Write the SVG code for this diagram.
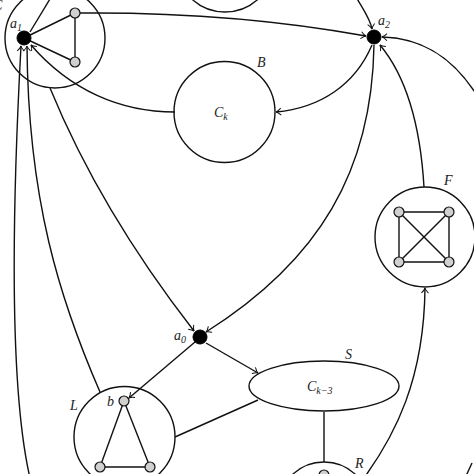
<svg xmlns="http://www.w3.org/2000/svg" width="474" height="474" viewBox="0 0 474 474">
<defs>
<style>
.e{fill:none;stroke:#111;stroke-width:1.4}
.c{fill:#fff;stroke:#111;stroke-width:1.4}
.g{fill:#d0d0d0;stroke:#111;stroke-width:1.2}
.b{fill:#000;stroke:#000}
.t{font-family:"Liberation Serif",serif;font-style:italic;font-size:14px;fill:#222}
.s{font-size:10px}
</style>
<marker id="ar" viewBox="-6 -5 8 10" refX="0" refY="0" markerWidth="8" markerHeight="10" markerUnits="userSpaceOnUse" orient="auto">
<path d="M-5 -3.5 Q-2 -0.5 0 0 Q-2 0.5 -5 3.5" fill="none" stroke="#111" stroke-width="1"/>
</marker>
</defs>
<rect width="474" height="474" fill="#fff"/>

<g id="C">
<circle class="c" cx="55" cy="38" r="50"/>
<text class="t" x="-7" y="10">C</text>
</g>
<g id="top"><circle class="c" cx="225" cy="-37" r="49"/></g>
<g id="B">
<circle class="c" cx="224.5" cy="112" r="50.5"/>
<text class="t" x="257" y="67">B</text>
<text class="t" x="214" y="117">C<tspan class="s" dy="3">k</tspan></text>
</g>
<g id="F">
<circle class="c" cx="425" cy="237" r="50"/>
<text class="t" x="444" y="185">F</text>
</g>
<g id="S">
<ellipse class="c" cx="324" cy="386" rx="75" ry="25"/>
<text class="t" x="345" y="359">S</text>
<text class="t" x="307" y="391">C<tspan class="s" dy="3">k−3</tspan></text>
</g>
<g id="L">
<circle class="c" cx="124.5" cy="437" r="50.5"/>
<text class="t" x="70" y="410">L</text>
</g>
<g id="R">
<circle class="c" cx="324" cy="508" r="46"/>
<text class="t" x="355" y="468">R</text>
</g>

<g id="connectors">
<path class="e" d="M30 32 L53 -6"/>
<path class="e" d="M80 13 C200 12 300 24 366 36" marker-end="url(#ar)"/>
<path class="e" d="M175 112 C120 112 70 90 31 45" marker-end="url(#ar)"/>
<path class="e" d="M30 478 C12 400 10 250 21 46" marker-end="url(#ar)"/>
<path class="e" d="M100 392 C60 300 28 200 27 46" marker-end="url(#ar)"/>
<path class="e" d="M50 88 Q100 210 194 331" marker-end="url(#ar)"/>
<path class="e" d="M355 -5 C362 8 370 18 372 29" marker-end="url(#ar)"/>
<path class="e" d="M372 45 C355 85 320 108 276 112" marker-end="url(#ar)"/>
<path class="e" d="M374 45 C372 170 320 260 206 332" marker-end="url(#ar)"/>
<path class="e" d="M424 187 C420 120 405 75 380 45" marker-end="url(#ar)"/>
<path class="e" d="M478 97 C455 60 425 38 382 37" marker-end="url(#ar)"/>
<path class="e" d="M364 478 C395 435 424 380 425 288" marker-end="url(#ar)"/>
<path class="e" d="M206 343 L258 373" marker-end="url(#ar)"/>
<path class="e" d="M195 342 L129 398" marker-end="url(#ar)"/>
<path class="e" d="M258 400 L175 437"/>
<path class="e" d="M324 412 L324 462"/>
<path class="e" d="M466 476 L472 463"/>
<line class="e" x1="24" y1="38" x2="75" y2="13"/>
<line class="e" x1="24" y1="38" x2="75" y2="62"/>
<line class="e" x1="75" y1="13" x2="75" y2="62"/>
<line class="e" x1="399" y1="212" x2="449" y2="212"/>
<line class="e" x1="399" y1="262" x2="449" y2="262"/>
<line class="e" x1="399" y1="212" x2="399" y2="262"/>
<line class="e" x1="449" y1="212" x2="449" y2="262"/>
<line class="e" x1="399" y1="212" x2="449" y2="262"/>
<line class="e" x1="449" y1="212" x2="399" y2="262"/>
<line class="e" x1="124" y1="401" x2="100" y2="467"/>
<line class="e" x1="124" y1="401" x2="150" y2="467"/>
<line class="e" x1="100" y1="467" x2="150" y2="467"/>
</g>

<g id="a1">
<circle class="b" cx="24" cy="38" r="7"/>
<text class="t" x="10" y="28">a<tspan class="s" dy="3">1</tspan></text>
</g>
<g id="a2">
<circle class="b" cx="374" cy="37" r="7"/>
<text class="t" x="378" y="25">a<tspan class="s" dy="3">2</tspan></text>
</g>
<g id="a0">
<circle class="b" cx="200" cy="337" r="7"/>
<text class="t" x="174" y="340">a<tspan class="s" dy="3">0</tspan></text>
</g>
<g id="C-nodes">
<circle class="g" cx="75" cy="13" r="5"/>
<circle class="g" cx="75" cy="62" r="5"/>
</g>
<g id="F-nodes">
<circle class="g" cx="399" cy="212" r="5"/>
<circle class="g" cx="449" cy="212" r="5"/>
<circle class="g" cx="399" cy="262" r="5"/>
<circle class="g" cx="449" cy="262" r="5"/>
</g>
<g id="L-nodes">
<circle class="g" cx="124" cy="401" r="5"/>
<text class="t" x="107" y="406">b</text>
<circle class="g" cx="100" cy="467" r="5"/>
<circle class="g" cx="150" cy="467" r="5"/>
</g>
<g id="R-nodes">
<circle class="g" cx="324" cy="475" r="5"/>
</g>
</svg>
